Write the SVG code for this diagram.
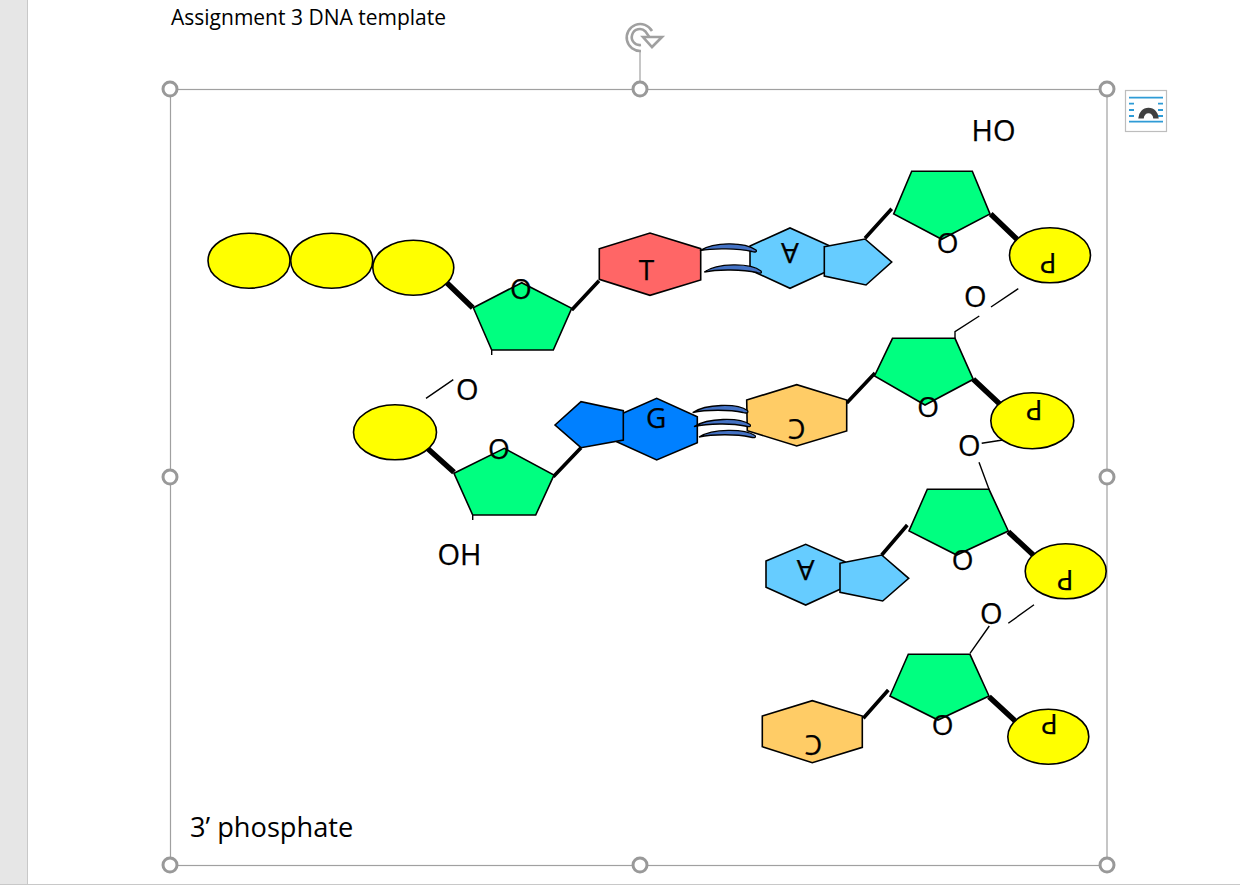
<svg xmlns="http://www.w3.org/2000/svg" width="1240" height="886" viewBox="0 0 1240 886">
<style>
text{font-family:"Open Sans","Noto Sans","Liberation Sans",sans-serif;fill:#000}
.lab{font-size:29px;stroke:#000;stroke-width:.25}
.let{font-size:28px;text-anchor:middle;stroke:#000;stroke-width:.25}
.s{stroke:#000;stroke-width:1.6;stroke-linejoin:miter}
.sugar{fill:#00FF80}
.pho{fill:#FFFF00}
.red{fill:#FF6666}
.lb{fill:#66CCFF}
.db{fill:#0080FF}
.or{fill:#FFCC66}
.bond{fill:#4472C4;stroke:#000;stroke-width:1.3}
.thin{stroke:#000;stroke-width:1.4;fill:none}
.mid{stroke:#000;stroke-width:3.6;fill:none}
.thick{stroke:#000;stroke-width:5.4;fill:none}
.frame{stroke:#A0A0A0;stroke-width:1.2;fill:none}
.h{fill:#fff;stroke:#999;stroke-width:3}
.wb{stroke:#2E9BD6;stroke-width:1.8;fill:none}
</style>
<rect width="1240" height="886" fill="#fff"/>
<g id="chrome">
<rect x="0" y="0" width="27" height="884" fill="#E6E6E6"/>
<path d="M27.5 0V884" stroke="#C8C8C8" stroke-width="1"/>
<path d="M0 884.5H1240" stroke="#C8C8C8" stroke-width="1"/>
</g>
<g id="title"><text x="171" y="25" font-size="21">Assignment 3 DNA template</text></g>
<g id="frame">
<rect class="frame" x="170.5" y="89.5" width="936.5" height="776"/>
<path class="frame" d="M640 52V89"/>
</g>
<g id="connectors">
<path class="thick" d="M446 282L472.7 307.7M427.3 448.3L454 472.3M990.7 214L1017 239.3M973.3 379.3L1000 404.3M1008.3 531.7L1033.3 555M989 696.7L1015 720.7"/>
<path class="mid" d="M571.7 310L599 280.7M553.3 476.7L581 447.7M846.7 403L875 373M865 238.3L891.7 208.7M881.7 555L907.3 525M863.3 718.3L888.3 690"/>
<path class="thin" d="M491.7 350V355M472.7 515V520M426 398.3L453.3 379.7M991 307L1018.3 288.7M979.3 316L955 331.7V338.3M981.7 443.3L1002.7 440M979 462.3L989 489.3M1008.3 623.3L1034 604.7M989.3 626L970 653.3"/>
</g>
<g id="sugar-1"><polygon class="s sugar" points="473.3,307.7 521.7,282.7 571.7,308.3 553.3,350 491.7,350"/><text class="let" x="521" y="299">O</text></g>
<g id="sugar-2"><polygon class="s sugar" points="454,473.3 504.3,448.3 554,475 535.7,515 472.7,515"/><text class="let" x="499" y="459">O</text></g>
<g id="sugar-3"><polygon class="s sugar" points="911.7,171.3 972.3,171.3 990,214 941.7,239.3 893.7,214"/><text class="let" transform="rotate(180 947.7 243)" x="947.7" y="253">O</text></g>
<g id="sugar-4"><polygon class="s sugar" points="892.5,338.3 955,338.3 973.3,379.3 925,405 874.5,376"/><text class="let" transform="rotate(180 928 407)" x="928" y="417">O</text></g>
<g id="sugar-5"><polygon class="s sugar" points="927.3,489.3 989,489.3 1008.3,531 956.7,555 909,531"/><text class="let" transform="rotate(180 962.7 560)" x="962.7" y="570">O</text></g>
<g id="sugar-6"><polygon class="s sugar" points="908.3,654.3 970,654.3 989,696 938,720 890,696"/><text class="let" transform="rotate(180 942.7 725)" x="942.7" y="735">O</text></g>
<g id="phosphate-1"><ellipse class="s pho" cx="249" cy="260.7" rx="41" ry="27.5"/></g>
<g id="phosphate-2"><ellipse class="s pho" cx="331.7" cy="260.7" rx="41" ry="27.5"/></g>
<g id="phosphate-3"><ellipse class="s pho" cx="413.3" cy="267.7" rx="40.5" ry="27.5"/></g>
<g id="phosphate-4"><ellipse class="s pho" cx="395" cy="432.3" rx="41.5" ry="27.5"/></g>
<g id="phosphate-5"><ellipse class="s pho" cx="1050" cy="255.3" rx="40.5" ry="27.5"/><text class="let" transform="rotate(180 1048 263)" x="1048" y="273">P</text></g>
<g id="phosphate-6"><ellipse class="s pho" cx="1032.3" cy="420.7" rx="41.5" ry="28"/><text class="let" transform="rotate(180 1034 410)" x="1034" y="420">P</text></g>
<g id="phosphate-7"><ellipse class="s pho" cx="1065.7" cy="571.3" rx="40.5" ry="27.5"/><text class="let" transform="rotate(180 1065 580)" x="1065" y="590">P</text></g>
<g id="phosphate-8"><ellipse class="s pho" cx="1048.3" cy="736.7" rx="40.5" ry="27.5"/><text class="let" transform="rotate(180 1049.3 724.3)" x="1049.3" y="734.3">P</text></g>
<g id="base-T"><polygon class="s red" points="599.3,248.7 650,233 700.7,248.7 700.7,280 650,295.3 599.3,279.3"/><text class="let" x="646.5" y="280">T</text></g>
<g id="base-A1"><polygon class="s lb" points="750,246 790,228 830,246 830,270 790,288.3 750,270"/><polygon class="s lb" points="824.3,246.7 865,239 891.7,262 866,285 824.3,276"/><text class="let" transform="rotate(180 790 253.3)" x="790" y="263.3">A</text></g>
<g id="base-G"><polygon class="s db" points="616.7,416 656.7,398.3 697.3,416.7 697.3,442.7 656.7,460 616.7,441.7"/><polygon class="s db" points="555,425 581,401.7 623.3,410.7 623.3,440 581,447.7"/><text class="let" x="656.3" y="427.7">G</text></g>
<g id="base-C1"><polygon class="s or" points="746.7,400 796.7,384.7 846.7,400 846.7,431 796.7,446 747.3,430.7"/><text class="let" transform="rotate(180 796.7 429)" x="796.7" y="439">C</text></g>
<g id="base-A2"><polygon class="s lb" points="766,561 805.7,544.3 845,561.7 845,587 805.7,605 766,587.3"/><polygon class="s lb" points="840,563.3 881.7,555 908.7,578.3 882.7,601 840,592.3"/><text class="let" transform="rotate(180 805.7 570)" x="805.7" y="580">A</text></g>
<g id="base-C2"><polygon class="s or" points="762.3,716 812.3,700.7 862.3,716 862.3,747.3 812.3,762.7 762.3,746.7"/><text class="let" transform="rotate(180 813.3 745)" x="813.3" y="755">C</text></g>
<g id="hydrogen-bonds">
<path class="bond" d="M700 250.5C714 242 744 241.5 756 250C757.500 252 755 252.500 752 251.500C738 248.500 714 248 700 250.5Z"/>
<path class="bond" d="M704.3 272C717 263 750 262.500 761 271C762.500 273.500 760 273.500 757 272.500C743 269.500 718 269 704.3 272Z"/>
<path class="bond" d="M692.7 412.5C706 404 737 403 747.500 410.500C749 413 746 413.500 743 412.500C730 409.500 706 409.500 692.7 412.5Z"/>
<path class="bond" d="M694 426.500C708 418 739 417 750 424.500C751.500 427 749 427 745 426C732 423 708 423.500 694 426.500Z"/>
<path class="bond" d="M699 437C713 428.500 744 428.500 755 435.500C756.500 438 754 438 750 437C737 434 713 434 699 437Z"/>
</g>
<g id="labels">
<text class="lab" x="971.500" y="141">HO</text>
<text class="lab" x="437.500" y="565">OH</text>
<text class="lab" x="456" y="400">O</text>
<text class="lab" x="964" y="307">O</text>
<text class="lab" x="958" y="455.500">O</text>
<text class="lab" x="980" y="623.500">O</text>
<text x="190" y="837" font-size="27.200">3’ phosphate</text>
</g>
<g id="handles">
<circle class="h" cx="170" cy="89" r="7"/><circle class="h" cx="640" cy="89" r="7"/><circle class="h" cx="1107" cy="89" r="7"/>
<circle class="h" cx="170" cy="477" r="7"/><circle class="h" cx="1107" cy="477" r="7"/>
<circle class="h" cx="170" cy="865" r="7"/><circle class="h" cx="640" cy="865" r="7"/><circle class="h" cx="1107" cy="865" r="7"/>
</g>
<g id="rotate-icon" fill="none" stroke="#A0A0A0" stroke-width="2.600">
<path d="M641 51A13.500 13.500 0 1 1 652 31"/>
<path d="M641 45A8 8 0 1 1 645.500 31.500L650 38"/>
<path d="M643 37H662L652 47Z" fill="#fff"/>
</g>
<g id="wrap-icon">
<rect x="1125.500" y="90.500" width="41" height="41" fill="#fff" stroke="#BDBDBD" stroke-width="1.200"/>
<path class="wb" d="M1129 97.700H1163M1129 121.700H1163M1129 103.700H1134M1158 103.700H1163M1129 110H1134M1158 110H1163M1129 116H1134M1158 116H1163"/>
<path d="M1141 118.500A7.500 8 0 0 1 1156 118.500" fill="none" stroke="#404040" stroke-width="5.500"/>
</g>
</svg>
